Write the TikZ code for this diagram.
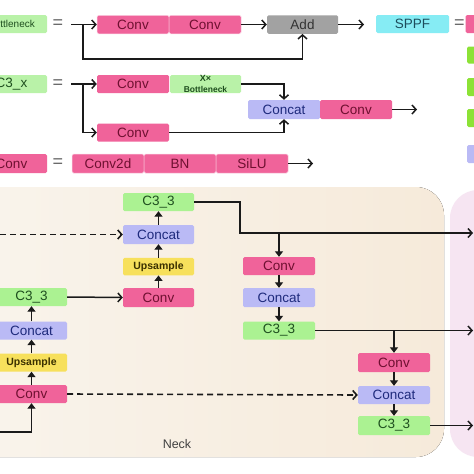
\documentclass[tikz,border=0pt]{standalone}
\usepackage{fontspec}
\setmainfont{Liberation Sans}
\usetikzlibrary{arrows.meta}
\definecolor{pinkc}{HTML}{F0639A}
\definecolor{pinkt}{HTML}{6E1030}
\definecolor{greenc}{HTML}{ABF292}
\definecolor{greenl}{HTML}{B9F2A8}
\definecolor{greent}{HTML}{1F4F1F}
\definecolor{lavc}{HTML}{BABAF5}
\definecolor{lavt}{HTML}{1E2A7C}
\definecolor{yelc}{HTML}{F7E05C}
\definecolor{yelt}{HTML}{3A3000}
\definecolor{grayc}{HTML}{A2A2A2}
\definecolor{cyanc}{HTML}{86ECF4}
\definecolor{cyant}{HTML}{1D4D5C}
\definecolor{limec}{HTML}{8CE236}
\definecolor{neckL}{HTML}{F9F4EC}
\definecolor{neckR}{HTML}{F6EADA}
\definecolor{headc}{HTML}{F6E5F2}
\definecolor{lnc}{HTML}{1A1A1A}
\tikzset{
  blk/.style={rectangle, rounded corners=1.5pt, inner sep=0pt, font=\fontsize{13.5}{15}\selectfont},
  convb/.style={blk, fill=pinkc, text=pinkt},
  c3b/.style={blk, fill=greenc, text=greent},
  lgb/.style={blk, fill=greenl, text=greent},
  catb/.style={blk, fill=lavc, text=lavt},
  upb/.style={blk, fill=yelc, text=yelt, font=\bfseries\fontsize{10.5}{12}\selectfont},
  seam/.style={draw=white!70!pinkc, line width=0.5pt},
  eqs/.style={inner sep=0pt, text=black!60, font=\fontsize{18}{18}\selectfont},
  ln/.style={line width=1.5pt, draw=lnc},
  arr/.style={ln, -{Straight Barb[length=4pt,width=9pt,line width=1.5pt]}},
  uarr/.style={line width=1.9pt, draw=lnc, -{Triangle[length=5.5pt,width=8pt]}},
  dsh/.style={ln, line width=1.6pt, dash pattern=on 6pt off 4pt, -{Straight Barb[length=4pt,width=9pt,line width=1.6pt]}},
}
\begin{document}
\begin{tikzpicture}[x=1pt,y=-1pt]
\useasboundingbox (0,0) rectangle (474,474);
\clip (0,0) rectangle (474,474);
\fill[white] (0,0) rectangle (474,474);

% backgrounds
\fill[left color=neckL, right color=neckR, rounded corners=28pt] (-30,187) rectangle (444,457);
\fill[headc, rounded corners=28pt] (450,190) rectangle (530,457);
\node[text=black!75, font=\fontsize{12.5}{14}\selectfont] (necklbl) at (177,444) {Neck};

% ---------- row 1: Bottleneck ----------
\node[lgb, minimum width=71pt, minimum height=18pt, font=\fontsize{10}{12}\selectfont] (bneck) at (11.5,24) {Bottleneck};
\node[eqs] (eq1) at (58,24) {=};
\node[convb, seam, minimum width=72pt, minimum height=18.5pt] (bc1) at (133,24.5) {Conv};
\node[convb, seam, minimum width=72pt, minimum height=18.5pt] (bc2) at (205,24.5) {Conv};
\node[blk, fill=grayc, text=black!80, minimum width=71pt, minimum height=18.5pt] (add) at (302.5,24.5) {Add};
\node[blk, fill=cyanc, text=cyant, minimum width=73pt, minimum height=18pt] (sppf) at (412.5,24) {SPPF};
\node[eqs] (eq2) at (459.5,24) {=};
\node[convb, minimum width=25pt, minimum height=18pt] (spc) at (478,24) {};
\node[blk, fill=limec, minimum width=28pt, minimum height=17pt] (sg1) at (481,55) {};
\node[blk, fill=limec, minimum width=28pt, minimum height=18pt] (sg2) at (481,87) {};
\node[blk, fill=limec, minimum width=28pt, minimum height=18pt] (sg3) at (481,118) {};
\node[blk, fill=lavc, minimum width=28pt, minimum height=18pt] (sg4) at (481,154) {};

\coordinate (s1) at (71,24.5);
\coordinate (k1) at (83,24.5);
\draw[arr] (s1) -- (bc1.west);
\draw[arr] (k1) |- (302.5,59) -- (add.south);
\draw[arr] (bc2.east) -- (add.west);
\coordinate (e1) at (364,24.5);
\draw[arr] (add.east) -- (e1);

% ---------- row 2: C3_x ----------
\node[lgb, minimum width=71pt, minimum height=18pt] (c3x) at (11.5,84) {C3\_x};
\node[eqs] (eq3) at (58,84) {=};
\node[convb, minimum width=72pt, minimum height=18pt] (r2c1) at (133,84) {Conv};
\node[lgb, minimum width=71pt, minimum height=18pt] (xbn) at (205.5,84) {};
\node[text=greent, font=\bfseries\fontsize{9}{9}\selectfont, inner sep=0pt] (xbnt1) at (205.5,78.5) {X×};
\node[text=greent, font=\bfseries\fontsize{8.5}{9}\selectfont, inner sep=0pt] (xbnt2) at (205.5,89.5) {Bottleneck};
\node[convb, minimum width=72pt, minimum height=18pt] (r2c2) at (133,132.5) {Conv};
\node[catb, minimum width=72pt, minimum height=19pt] (r2cat) at (284,109.5) {Concat};
\node[convb, minimum width=72pt, minimum height=19pt] (r2c3) at (356,109.5) {Conv};

\coordinate (s2) at (71,84);
\coordinate (k2) at (83,84);
\draw[arr] (s2) -- (r2c1.west);
\draw[arr] (k2) |- (r2c2.west);
\draw[arr] (xbn.east) -| (r2cat.north);
\draw[arr] (r2c2.east) -| (r2cat.south);
\coordinate (e2) at (417,109.5);
\draw[arr] (r2c3.east) -- (e2);

% ---------- row 3: Conv ----------
\node[convb, minimum width=71pt, minimum height=19pt] (cv) at (11.5,163.5) {Conv};
\node[eqs] (eq4) at (58,163.5) {=};
\node[convb, seam, minimum width=72pt, minimum height=19pt] (c2d) at (108,163.5) {Conv2d};
\node[convb, seam, minimum width=72pt, minimum height=19pt] (bn) at (180,163.5) {BN};
\node[convb, seam, minimum width=72pt, minimum height=19pt] (silu) at (252,163.5) {SiLU};
\coordinate (e3) at (313,163.5);
\draw[arr] (silu.east) -- (e3);

% ---------- neck ----------
\node[c3b, minimum width=71pt, minimum height=18pt] (a1) at (158.5,202) {C3\_3};
\node[catb, minimum width=71pt, minimum height=19pt] (a2) at (158.5,234.5) {Concat};
\node[upb, minimum width=71pt, minimum height=17.5pt] (a3) at (158.5,266.5) {Upsample};
\node[convb, minimum width=71pt, minimum height=19pt] (a4) at (158.5,297.5) {Conv};

\node[c3b, minimum width=71pt, minimum height=18pt] (b1) at (31.5,297) {C3\_3};
\node[catb, minimum width=71pt, minimum height=18pt] (b2) at (31.5,330.5) {Concat};
\node[upb, minimum width=71pt, minimum height=18pt] (b3) at (31.5,362.5) {Upsample};
\node[convb, minimum width=71pt, minimum height=18pt] (b4) at (31.5,394) {Conv};

\node[convb, minimum width=72pt, minimum height=18pt] (d1) at (279,266) {Conv};
\node[catb, minimum width=72pt, minimum height=19pt] (d2) at (279,297.5) {Concat};
\node[c3b, minimum width=72pt, minimum height=18pt] (d3) at (279,330.5) {C3\_3};

\node[convb, minimum width=72pt, minimum height=19pt] (c1) at (394,362.5) {Conv};
\node[catb, minimum width=72pt, minimum height=18pt] (c2) at (394,395) {Concat};
\node[c3b, minimum width=72pt, minimum height=19pt] (c3) at (394,425.5) {C3\_3};

\draw[uarr] (a4) -- (a3);
\draw[uarr] (a3) -- (a2);
\draw[uarr] (a2) -- (a1);
\draw[uarr] (b4) -- (b3);
\draw[uarr] (b3) -- (b2);
\draw[uarr] (b2) -- (b1);
\draw[uarr] (d1) -- (d2);
\draw[uarr] (d2) -- (d3);
\draw[uarr] (c1) -- (c2);
\draw[uarr] (c2) -- (c3);

\coordinate (ld1) at (0,234.5);
\draw[dsh] (ld1) -- (a2.west);
\draw[arr] (b1.east) -- (a4.west);
\coordinate (lb4) at (0,432);
\draw[uarr, line width=1.5pt] (lb4) -| (b4.south);
\draw[dsh] (b4.east) -- (c2.west);

\coordinate (h1) at (473,233);
\draw[arr] (a1.east) -| (240,233) -- (h1);
\draw[uarr] (279,233) -- (d1.north);
\coordinate (h2) at (473,330.5);
\draw[arr] (d3.east) -- (h2);
\draw[uarr] (394,330.5) -- (c1.north);
\coordinate (h3) at (473,425.5);
\draw[arr] (c3.east) -- (h3);
\end{tikzpicture}
\end{document}
